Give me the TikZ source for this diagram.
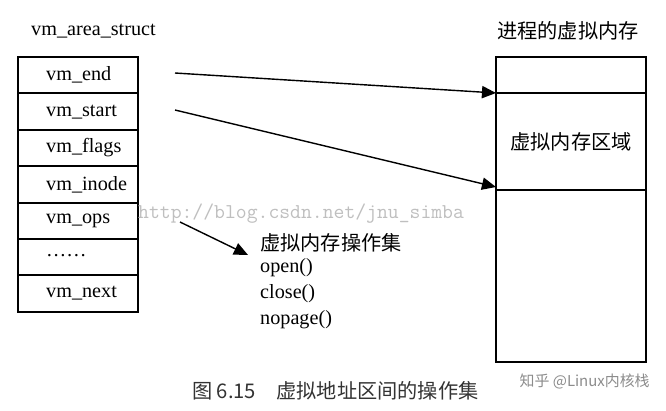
\documentclass[tikz,border=0pt]{standalone}
\usepackage{fontspec}
\setmainfont{Liberation Serif}
\newfontfamily\cjk{Noto Sans CJK SC}
\usetikzlibrary{arrows.meta}
\begin{document}
\begin{tikzpicture}[x=0.02cm,y=-0.02cm,
  box/.style={draw,line width=0.8pt},
  lbl/.style={font=\fontsize{11.5}{14}\selectfont},
  cn/.style={font=\cjk\fontsize{11.5}{14}\selectfont},
  arr/.style={-{Triangle[length=8pt,width=7pt]},line width=0.8pt}]
\useasboundingbox (0,0) rectangle (666,410);
\fill[white] (0,0) rectangle (666,410);
% left struct
\draw[box] (18,57) rectangle (138,312);
\foreach \y in {93,130,166,203,239,275} \draw[line width=0.8pt] (18,\y) -- (138,\y);
\node[lbl,anchor=west] (t) at (25,31) {vm\_area\_struct};
\node[lbl,anchor=west] (e) at (40,75) {vm\_end};
\node[lbl,anchor=west] (s) at (40,112) {vm\_start};
\node[lbl,anchor=west] (f) at (40,148) {vm\_flags};
\node[lbl,anchor=west] (i) at (40,185) {vm\_inode};
\node[lbl,anchor=west] (o) at (40,221) {vm\_ops};
\node[lbl,anchor=west] (d) at (40,256) {……};
\node[lbl,anchor=west] (n) at (40,293) {vm\_next};
% right memory
\draw[box] (496,57) rectangle (646,362);
\draw[line width=0.8pt] (496,93) -- (646,93);
\draw[line width=0.8pt] (496,190) -- (646,190);
\node[cn] (pt) at (568,31) {进程的虚拟内存};
\node[cn] (va) at (571,142) {虚拟内存区域};
\coordinate (m1) at (496,93);
\coordinate (m2) at (496,187);
\coordinate (a1) at (175,73);
\coordinate (a2) at (175,110);
\coordinate (a3) at (180,222);
\coordinate (a4) at (248,255);
\draw[arr] (a1) -- (m1);
\draw[arr] (a2) -- (m2);
\draw[arr] (a3) -- (a4);
% ops
\node[cn,anchor=west] (ops) at (254,243) {虚拟内存操作集};
\node[lbl,anchor=west] (op) at (254,268) {open()};
\node[lbl,anchor=west] (cl) at (254,294) {close()};
\node[lbl,anchor=west] (np) at (254,320) {nopage()};
% watermarks
\node[font=\ttfamily\fontsize{12}{14}\selectfont,text=black!25,anchor=west] (wm) at (132,214) {http://blog.csdn.net/jnu\_simba};
\node[font=\cjk\fontsize{8.5}{10}\selectfont,text=black!45,anchor=east,inner sep=0pt] (zh) at (650,381) {知乎 @Linux内核栈};
\node[font=\cjk\fontsize{11.5}{14}\selectfont,text=black!80,anchor=west] (cap) at (186,391) {图 6.15\quad 虚拟地址区间的操作集};
\end{tikzpicture}
\end{document}
